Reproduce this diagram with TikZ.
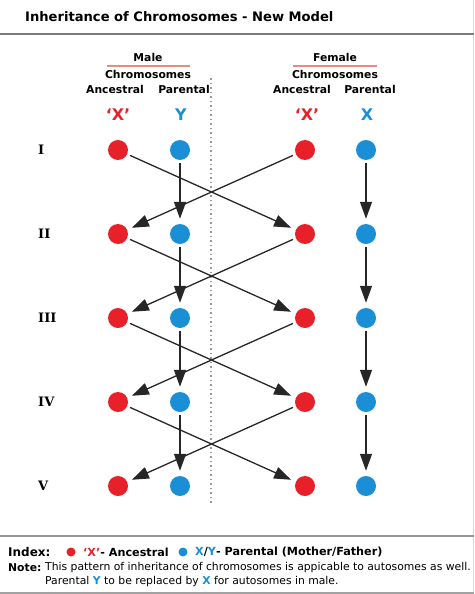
\documentclass[tikz,border=0pt]{standalone}
\usepackage{fontspec}
\setmainfont{DejaVu Sans}
\newfontfamily\numeralfont{DejaVu Serif}
\usepackage{xcolor}
\usetikzlibrary{arrows.meta, positioning}

\definecolor{ancred}{HTML}{E8202A}
\definecolor{parblue}{HTML}{1B8FD6}
\definecolor{rulered}{HTML}{E0907E}
\definecolor{framegray}{HTML}{7A7A7A}

\tikzset{
  chrom/.style={circle, minimum size=20pt, inner sep=0pt},
  anc/.style={chrom, fill=ancred},
  par/.style={chrom, fill=parblue},
  keydot/.style={circle, minimum size=9pt, inner sep=0pt},
  inherit/.style={-{Triangle[length=17pt,width=12pt]}, line width=1.3pt, black!85,
    shorten <=3pt, shorten >=5pt},
  head/.style={font=\fontsize{10.8}{12}\selectfont\bfseries, inner sep=0pt},
  letter/.style={font=\fontsize{16}{18}\selectfont\bfseries, inner sep=0pt},
  txt/.style={anchor=west, inner sep=0pt, font=\fontsize{10.8}{12}\selectfont},
}

\begin{document}
\begin{tikzpicture}[x=1pt,y=-1pt]
  \useasboundingbox (0,0) rectangle (474,594);
  % frame and separators
  \draw[black!15, line width=1pt] (473,0) -- (473,594);
  \draw[framegray, line width=2pt] (0,34) -- (474,34);
  \draw[framegray!80, line width=1.5pt] (0,536) -- (474,536);
  \draw[framegray!70, line width=2pt] (0,593) -- (474,593);

  \node[anchor=west, inner sep=0pt, font=\fontsize{13.1}{15}\selectfont\bfseries] (title) at (25,17)
    {Inheritance of Chromosomes - New Model};

  % headings
  \node[head] (male) at (148,57) {Male};
  \draw[rulered, line width=1.5pt] (107,66) -- (190,66);
  \node[head] (mchrom) at (148,74) {Chromosomes};
  \node[head] (manc) at (115,89) {Ancestral};
  \node[head] (mpar) at (184,89) {Parental};
  \node[head] (female) at (335,57) {Female};
  \draw[rulered, line width=1.5pt] (293,66) -- (377,66);
  \node[head] (fchrom) at (335,74) {Chromosomes};
  \node[head] (fanc) at (302,89) {Ancestral};
  \node[head] (fpar) at (370,89) {Parental};

  \node[letter, text=ancred] (mX) at (118,115) {‘X’};
  \node[letter, text=parblue] (mY) at (181,115) {Y};
  \node[letter, text=ancred] (fX) at (307,115) {‘X’};
  \node[letter, text=parblue] (fXp) at (367,115) {X};

  % divider
  \draw[black!40, line width=1.2pt, dash pattern=on 1.5pt off 3pt] (211,78) -- (211,505);

  % generations
  \foreach \r/\y/\lab in {1/150/I, 2/234/II, 3/318/III, 4/402/IV, 5/486/V} {
    \node[anchor=west, inner sep=0pt, font=\numeralfont\fontsize{13}{15}\selectfont\bfseries] (gen\r) at (38,\y) {\lab};
    \node[anc] (mA\r) at (118,\y) {};
    \node[par] (mP\r) at (180,\y) {};
    \node[anc] (fA\r) at (305,\y) {};
    \node[par] (fP\r) at (366,\y) {};
  }
  \foreach \r/\s in {1/2, 2/3, 3/4, 4/5} {
    \draw[inherit] (mA\r) -- (fA\s);
    \draw[inherit] (fA\r) -- (mA\s);
    \draw[inherit] (mP\r) -- (mP\s);
    \draw[inherit] (fP\r) -- (fP\s);
  }

  % index and note
  \node[txt, font=\fontsize{12}{14}\selectfont\bfseries] (index) at (8,552) {Index:};
  \node[keydot, fill=ancred] (keyA) at (71,552) {};
  \node[txt, font=\fontsize{11.2}{13}\selectfont\bfseries] (keyAtxt) at (83,552)
    {\textcolor{ancred}{‘X’}- Ancestral};
  \node[keydot, fill=parblue] (keyP) at (183,552) {};
  \node[txt, font=\fontsize{11.2}{13}\selectfont\bfseries] (keyPtxt) at (195,552)
    {\textcolor{parblue}{X}/\textcolor{parblue}{Y}- Parental (Mother/Father)};
  \node[txt, font=\fontsize{10.8}{12}\selectfont\bfseries] (note) at (8,568) {Note:};
  \node[txt] (note1) at (45,568)
    {This pattern of inheritance of chromosomes is appicable to autosomes as well.};
  \node[txt] (note2) at (45,582)
    {Parental \textcolor{parblue}{\textbf{Y}} to be replaced by \textcolor{parblue}{\textbf{X}} for autosomes in male.};
\end{tikzpicture}
\end{document}
